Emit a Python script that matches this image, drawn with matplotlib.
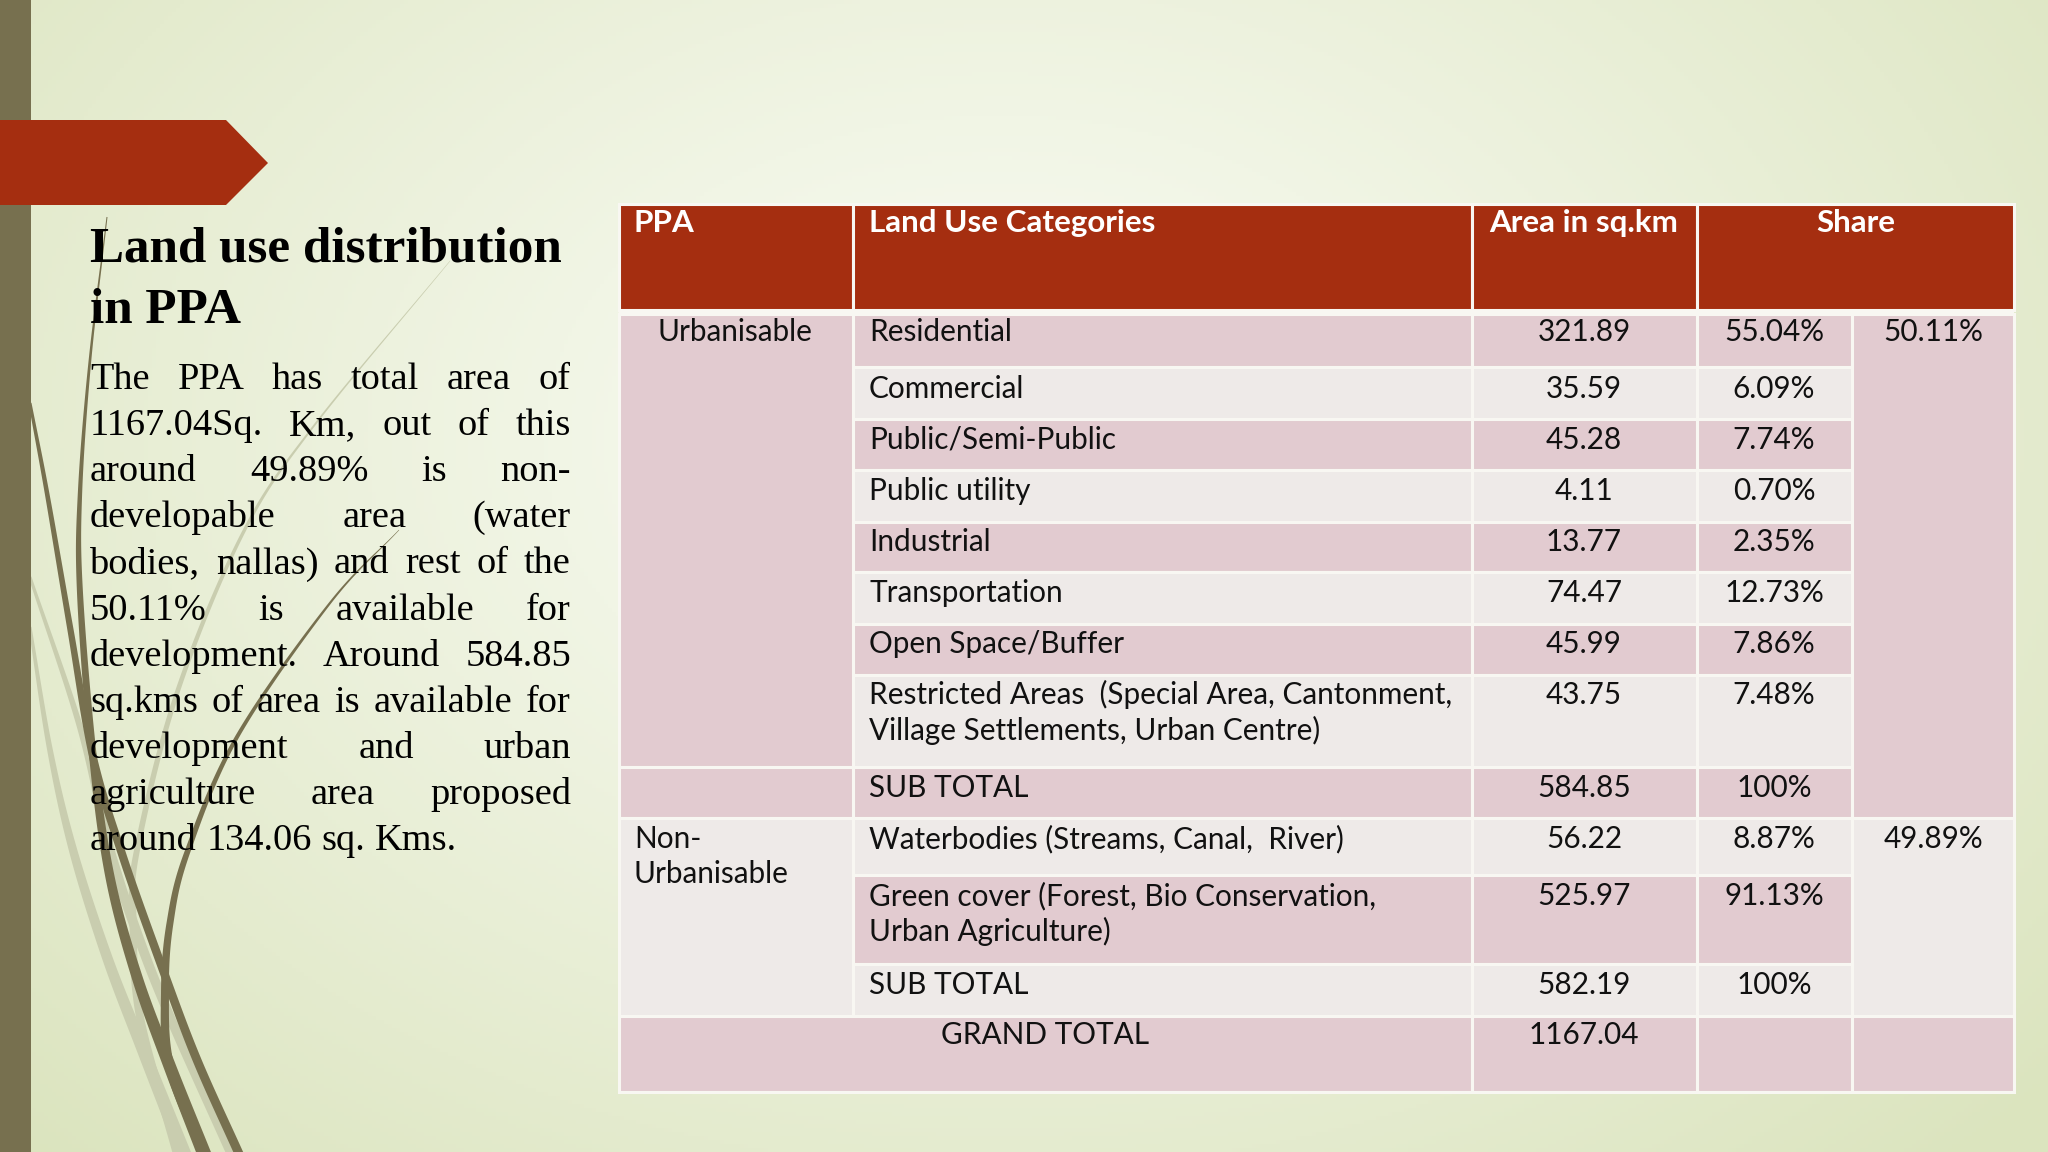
import numpy as np
import matplotlib
matplotlib.use("Agg")
import matplotlib.pyplot as plt
from matplotlib.patches import Polygon, Rectangle

# ---- content ----
title_lines = ["Land use distribution", "in PPA"]
body_lines = ["The PPA has total area of", "1167.04Sq. Km, out of this", "around 49.89% is non-",
              "developable area (water", "bodies, nallas) and rest of the", "50.11% is available for",
              "development. Around 584.85", "sq.kms of area is available for", "development and urban",
              "agriculture area proposed", "around 134.06 sq. Kms."]
headers = ["PPA", "Land Use Categories", "Area in sq.km", "Share"]
categories = ["Residential", "Commercial", "Public/Semi-Public", "Public utility", "Industrial",
              "Transportation", "Open Space/Buffer",
              "Restricted Areas  (Special Area, Cantonment,\nVillage Settlements, Urban Centre)",
              "SUB TOTAL", "Waterbodies (Streams, Canal,  River)",
              "Green cover (Forest, Bio Conservation,\nUrban Agriculture)", "SUB TOTAL"]
areas = ["321.89", "35.59", "45.28", "4.11", "13.77", "74.47", "45.99", "43.75", "584.85",
         "56.22", "525.97", "582.19"]
shares = ["55.04%", "6.09%", "7.74%", "0.70%", "2.35%", "12.73%", "7.86%", "7.48%", "100%",
          "8.87%", "91.13%", "100%"]
grand_label, grand_value = "GRAND TOTAL", "1167.04"
urban_label, urban_share = "Urbanisable", "50.11%"
nonurban_label, nonurban_share = "Non-\nUrbanisable", "49.89%"

# ---- layout / style ----
RED, PINK, LIGHT, LINE = "#A52E10", "#E2CBD0", "#EEEAE8", "#F8F7F2"
OLIVE, PALE = "#77704F", "#C9CDAF"
X = [619, 853, 1472, 1697, 1852, 2014]
HEAD = (204, 310)
Y = [314, 367, 419, 470, 522, 572, 624, 675, 767, 818, 875, 964, 1016, 1092]
BASE = [341, 398, 449, 500, 551, 602, 653, 704, 797, 848, 905, 994, 1044]
LINEGAP = 36
TFONT = ["Lato", "DejaVu Sans"]
TS = 21.4
HS = 22.6

fig = plt.figure(figsize=(20.48, 11.52), dpi=100)
ax = fig.add_axes([0, 0, 1, 1])
ax.set_xlim(0, 2048); ax.set_ylim(1152, 0); ax.axis("off")

# background gradient
yy, xx = np.mgrid[0:1152:4j*72, 0:2048:4j*128]
d = np.sqrt(((xx - 1000) / 1400) ** 2 + ((yy - 440) / 1000) ** 2)
d = np.clip(d, 0, 1)[..., None]
c0 = np.array([250, 252, 245.]); c1 = np.array([219, 228, 190.])
ax.imshow((c0 + (c1 - c0) * d ** 1.1) / 255, extent=(0, 2048, 1152, 0), aspect="auto", zorder=0)
ax.set_xlim(0, 2048); ax.set_ylim(1152, 0)

def blade(pts, w0, w1, w2, color, z=1):
    p = np.array(pts, float)
    q = np.vstack([2*p[0]-p[1], p, 2*p[-1]-p[-2]])
    out = []
    for i in range(1, len(q)-2):
        for t in np.linspace(0, 1, 24, endpoint=False):
            a, b, c, e = q[i-1], q[i], q[i+1], q[i+2]
            out.append(0.5*(2*b+(c-a)*t+(2*a-5*b+4*c-e)*t**2+(3*b-a-3*c+e)*t**3))
    out.append(p[-1]); out = np.array(out)
    tan = np.gradient(out, axis=0); tan /= np.linalg.norm(tan, axis=1, keepdims=True)
    nor = np.c_[-tan[:, 1], tan[:, 0]]
    s = np.linspace(0, 1, len(out))
    w = np.interp(s, [0, .45, 1], [w0, w1, w2])[:, None] / 2
    ax.add_patch(Polygon(np.vstack([out+nor*w, (out-nor*w)[::-1]]), closed=True, fc=color, ec="none", zorder=z))

blade([(30, 627), (50, 750), (73, 850), (107, 957), (143, 1050), (185, 1156)], 3, 9, 14, PALE)
blade([(30, 577), (80, 727), (110, 850), (137, 933), (170, 1017), (232, 1156)], 3, 10, 9, PALE)
blade([(450, 261), (313, 427), (243, 533), (177, 693), (137, 850), (133, 917), (140, 1017), (178, 1156)], .5, 5, 9, PALE)
blade([(399, 530), (330, 603), (237, 737), (187, 853), (170, 923), (165, 990), (170, 1067), (205, 1156)], .5, 6, 10, OLIVE)
blade([(107, 217), (90, 360), (80, 493), (80, 593), (93, 757), (110, 877), (137, 977), (170, 1067), (205, 1156)], 1, 7, 14, OLIVE)
blade([(30, 403), (47, 493), (70, 627), (93, 757), (123, 857), (163, 970), (197, 1060), (240, 1156)], 3, 8, 9, OLIVE)

# sidebar and arrow
ax.add_patch(Rectangle((0, 0), 31, 1152, fc=OLIVE, ec="none", zorder=2))
ax.add_patch(Polygon([(0, 120), (226, 120), (268, 163), (226, 205), (0, 205)], fc=RED, ec="none", zorder=3))

# left text
for s, y in zip(title_lines, [261, 323]):
    ax.text(90.5, y, s, family="Liberation Serif", weight="bold", fontsize=36.8, va="baseline", color="black", zorder=5)

def justified(line, x0, x1, y, fs, just):
    words = line.split(" ")
    arts = [ax.text(0, y, w, family="Liberation Serif", fontsize=fs, va="baseline", color="black", zorder=5) for w in words]
    r = fig.canvas.get_renderer()
    inv = ax.transData.inverted()
    ws = [abs(inv.transform(a.get_window_extent(r))[1, 0] - inv.transform(a.get_window_extent(r))[0, 0]) for a in arts]
    gap = (x1 - x0 - sum(ws)) / (len(words) - 1) if just else fs * 100 / 72 * 0.25
    x = x0
    for a, w in zip(arts, ws):
        a.set_x(x); x += w + gap

for i, line in enumerate(body_lines):
    justified(line, 90, 571, 389 + i * 46.1, 27.6, i < len(body_lines) - 1)

# table cells
def cell(x0, x1, y0, y1, col):
    ax.add_patch(Rectangle((x0, y0), x1 - x0, y1 - y0, fc=col, ec=LINE, lw=2.2, zorder=4))

cell(X[0], X[1], *HEAD, RED); cell(X[1], X[2], *HEAD, RED); cell(X[2], X[3], *HEAD, RED); cell(X[3], X[5], *HEAD, RED)
ax.add_patch(Rectangle((X[0], HEAD[1]), X[5] - X[0], Y[0] - HEAD[1], fc=LINE, ec="none", zorder=4))
for i in range(len(categories)):
    col = PINK if i % 2 == 0 else LIGHT
    for j in (1, 2, 3):
        cell(X[j], X[j + 1], Y[i], Y[i + 1], col)
cell(X[0], X[1], Y[0], Y[8], PINK)
cell(X[0], X[1], Y[8], Y[9], PINK)
cell(X[0], X[1], Y[9], Y[12], LIGHT)
cell(X[4], X[5], Y[0], Y[9], PINK)
cell(X[4], X[5], Y[9], Y[12], LIGHT)
cell(X[0], X[2], Y[12], Y[13], PINK)
cell(X[2], X[3], Y[12], Y[13], PINK)
cell(X[3], X[4], Y[12], Y[13], PINK)
cell(X[4], X[5], Y[12], Y[13], PINK)

def t(x, y, s, ha="left", color="#111111", weight="normal", fs=TS):
    ax.text(x, y, s, family=TFONT, fontsize=fs, ha=ha, va="baseline", color=color, weight=weight, zorder=6)

t(634, 232, headers[0], color="white", weight="bold", fs=HS)
t(869, 232, headers[1], color="white", weight="bold", fs=HS)
t(1584, 232, headers[2], "center", "white", "bold", HS)
t(1856, 232, headers[3], "center", "white", "bold", HS)

for i, (c, a, s) in enumerate(zip(categories, areas, shares)):
    for k, part in enumerate(c.split("\n")):
        t(869, BASE[i] + k * LINEGAP, part)
    t(1584, BASE[i], a, "center")
    t(1774, BASE[i], s, "center")

t(735, BASE[0], urban_label, "center")
t(1933, BASE[0], urban_share, "center")
for k, part in enumerate(nonurban_label.split("\n")):
    t(634, BASE[9] + k * 35, part)
t(1933, BASE[9], nonurban_share, "center")
t(1045, BASE[12], grand_label, "center")
t(1584, BASE[12], grand_value, "center")

fig.savefig("out.png", dpi=100)
